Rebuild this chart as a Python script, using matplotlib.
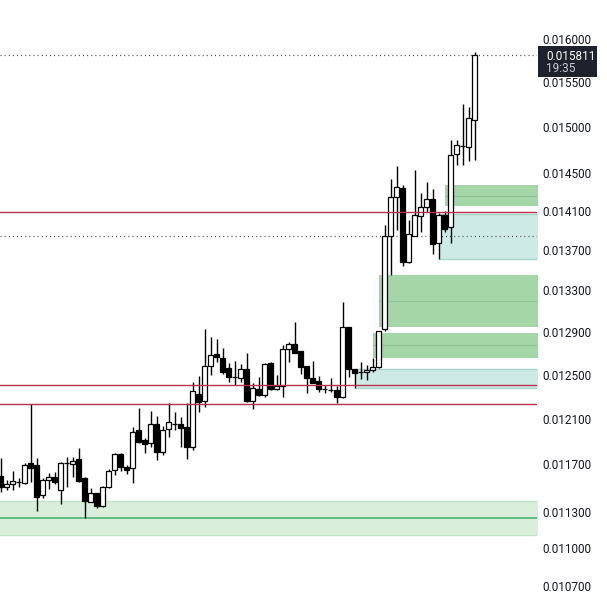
import matplotlib
matplotlib.use("Agg")
import matplotlib.pyplot as plt
from matplotlib.patches import Rectangle
from matplotlib.ticker import NullLocator
import numpy as np

# ---- data ----
opens = [0.011603, 0.011509, 0.011535, 0.011550, 0.011543, 0.011714, 0.011697, 0.011441, 0.011569, 0.011594,
         0.011483, 0.011712, 0.011705, 0.011748, 0.011586, 0.011382, 0.011458, 0.011349, 0.011509, 0.011654,
         0.011791, 0.011680, 0.011671, 0.012002, 0.011914, 0.011887, 0.012055, 0.011808, 0.012011, 0.012053,
         0.012055, 0.012029, 0.011852, 0.012323, 0.012259, 0.012580, 0.012690, 0.012654, 0.012562, 0.012481,
         0.012470, 0.012553, 0.012259, 0.012369, 0.012314, 0.012608, 0.012369, 0.012397, 0.012737, 0.012784,
         0.012718, 0.012580, 0.012470, 0.012442, 0.012371, 0.012362, 0.012360, 0.012296, 0.012946, 0.012553,
         0.012523, 0.012525, 0.012543, 0.012571, 0.012927, 0.013842, 0.014243, 0.014339, 0.013579, 0.013842,
         0.014047, 0.014139, 0.014222, 0.013770, 0.014057, 0.013934, 0.014701, 0.014786, 0.014777, 0.015075]
highs = [0.011757, 0.011569, 0.011646, 0.011586, 0.011714, 0.012233, 0.011757, 0.011586, 0.011629, 0.011637,
         0.011723, 0.011765, 0.011765, 0.011843, 0.011594, 0.011501, 0.011458, 0.011518, 0.011663, 0.011799,
         0.011799, 0.011697, 0.012029, 0.012197, 0.011931, 0.012171, 0.012126, 0.012038, 0.012241, 0.012162,
         0.012117, 0.012241, 0.012433, 0.012488, 0.012927, 0.012851, 0.012832, 0.012746, 0.012608, 0.012626,
         0.012598, 0.012699, 0.012424, 0.012479, 0.012608, 0.012617, 0.012498, 0.012775, 0.012803, 0.012994,
         0.012718, 0.012580, 0.012626, 0.012488, 0.012406, 0.012470, 0.012397, 0.013185, 0.012946, 0.012553,
         0.012617, 0.012589, 0.012654, 0.012908, 0.013954, 0.014435, 0.014573, 0.014371, 0.014006, 0.014531,
         0.014286, 0.014403, 0.014328, 0.014078, 0.014098, 0.014854, 0.014854, 0.015252, 0.015219, 0.015846]
lows = [0.011466, 0.011483, 0.011483, 0.011509, 0.011535, 0.011552, 0.011308, 0.011415, 0.011492, 0.011535,
        0.011365, 0.011509, 0.011594, 0.011552, 0.011250, 0.011382, 0.011332, 0.011340, 0.011501, 0.011612,
        0.011646, 0.011620, 0.011543, 0.011887, 0.011799, 0.011852, 0.011740, 0.011782, 0.011940, 0.012002,
        0.011852, 0.011748, 0.011825, 0.012162, 0.012206, 0.012498, 0.012617, 0.012507, 0.012433, 0.012406,
        0.012433, 0.012250, 0.012188, 0.012305, 0.012296, 0.012360, 0.012360, 0.012296, 0.012617, 0.012699,
        0.012507, 0.012332, 0.012424, 0.012341, 0.012332, 0.012341, 0.012241, 0.012286, 0.012479, 0.012378,
        0.012461, 0.012452, 0.012525, 0.012562, 0.012908, 0.013451, 0.013903, 0.013540, 0.013570, 0.013842,
        0.013883, 0.014088, 0.013658, 0.013609, 0.013883, 0.013770, 0.014584, 0.014584, 0.014627, 0.014637]
closes = [0.011509, 0.011535, 0.011560, 0.011552, 0.011697, 0.011671, 0.011424, 0.011569, 0.011594, 0.011552,
          0.011714, 0.011714, 0.011731, 0.011560, 0.011390, 0.011458, 0.011349, 0.011509, 0.011646, 0.011791,
          0.011680, 0.011654, 0.011984, 0.011896, 0.011878, 0.012055, 0.011808, 0.012002, 0.012073, 0.012055,
          0.012020, 0.011852, 0.012351, 0.012250, 0.012580, 0.012681, 0.012663, 0.012525, 0.012479, 0.012479,
          0.012553, 0.012259, 0.012378, 0.012314, 0.012598, 0.012369, 0.012397, 0.012737, 0.012784, 0.012699,
          0.012571, 0.012470, 0.012424, 0.012369, 0.012369, 0.012360, 0.012296, 0.012946, 0.012553, 0.012516,
          0.012525, 0.012543, 0.012571, 0.012908, 0.013842, 0.014243, 0.014350, 0.013579, 0.013862, 0.014057,
          0.014139, 0.014222, 0.013760, 0.014057, 0.013913, 0.014691, 0.014799, 0.014788, 0.015097, 0.015811]

# zones: (start candle index, bottom price, top price, mid price or None, kind)
zone_start = [74, 73, 63, 62, 59, -5]
zone_bottom = [0.014153, 0.013606, 0.012949, 0.012656, 0.012375, 0.011110]
zone_top = [0.014371, 0.014070, 0.013451, 0.012892, 0.012553, 0.011390]
zone_mid = [0.014254, None, 0.013194, 0.012775, None, None]
zone_kind = ["green", "teal", "green", "green", "teal", "light"]

red_levels = [0.014083, 0.012405, 0.012230]
green_level = 0.011250
dotted_levels = [0.013845]
last_price = 0.015811
last_time = "19:35"

tick_values = [0.016, 0.0155, 0.015, 0.0145, 0.0141, 0.0137, 0.0133, 0.0129,
               0.0125, 0.0121, 0.0117, 0.0113, 0.011, 0.0107]
tick_labels = ["%.6f" % v for v in tick_values]

# ---- figure ----
W = H = 607
fig = plt.figure(figsize=(W / 100, H / 100), dpi=100)
fig.patch.set_facecolor("white")
ax = fig.add_axes([0, 0, 537 / W, 1])
ax.set_facecolor("white")
ax.set_yscale("log")
ax.set_ylim(0.010536, 0.016463)
xmin, xmax = -0.5 / 6, (537 - 0.5) / 6
ax.set_xlim(xmin, xmax)

zone_colors = {"green": ("#a5d6a7", None), "teal": ("#cdeae4", "#a6d7cd"), "light": ("#d9eedb", "#c2e3c5")}
for s, b, t, m, k in zip(zone_start, zone_bottom, zone_top, zone_mid, zone_kind):
    fc, ec = zone_colors[k]
    ax.fill_between([s, xmax + 5], b, t, color=fc, lw=0, zorder=1)
    if ec:
        ax.hlines([b, t], s, xmax + 5, color=ec, lw=1.0, zorder=1.1)
    if m is not None:
        ax.hlines(m, s, xmax + 5, color="#8ec490", lw=0.9, zorder=1.1)

ax.axhline(green_level, color="#3fae6a", lw=1.1, zorder=2)
for lv in dotted_levels:
    ax.axhline(lv, color="#444444", lw=0.9, ls=(0, (0.8, 2.5)), zorder=2)
ax.axhline(last_price, color="#444444", lw=0.9, ls=(0, (0.8, 2.5)), zorder=2)

idx = np.arange(len(opens))
o = np.array(opens); c = np.array(closes)
ax.vlines(idx, lows, highs, color="black", lw=1.0, zorder=3)
up = c >= o
bottoms = np.minimum(o, c)
heights = np.abs(c - o)
ax.bar(idx[up], heights[up], bottom=bottoms[up], width=0.68, color="white",
       edgecolor="black", linewidth=0.9, zorder=4)
ax.bar(idx[~up], heights[~up], bottom=bottoms[~up], width=0.68, color="black",
       edgecolor="black", linewidth=0.9, zorder=4)

for lv in red_levels:
    ax.axhline(lv, color="#b8324f", lw=1.0, zorder=5)

for sp in ax.spines.values():
    sp.set_visible(False)
ax.set_xticks([])
ax.yaxis.tick_right()
ax.yaxis.set_minor_locator(NullLocator())
ax.set_yticks(tick_values)
ax.set_yticklabels(tick_labels)
ax.tick_params(axis="y", length=0, pad=4, labelsize=8.5, labelcolor="#131722")
for lab in ax.get_yticklabels():
    lab.set_fontfamily("Roboto")

# last price label
fig.add_artist(Rectangle((538 / W, 1 - 76.5 / H), 59 / W, 30 / H, transform=fig.transFigure,
                         facecolor="#1e222d", edgecolor="none", zorder=10))
fig.text(546 / W, 1 - 56 / H, "%.6f" % last_price, color="white", fontsize=8.5,
         family="Roboto", va="center", ha="left", zorder=11)
fig.text(546 / W, 1 - 69 / H, last_time, color="#c9ccd3", fontsize=8.5,
         family="Roboto", va="center", ha="left", zorder=11)

fig.savefig("out.png", dpi=100)
